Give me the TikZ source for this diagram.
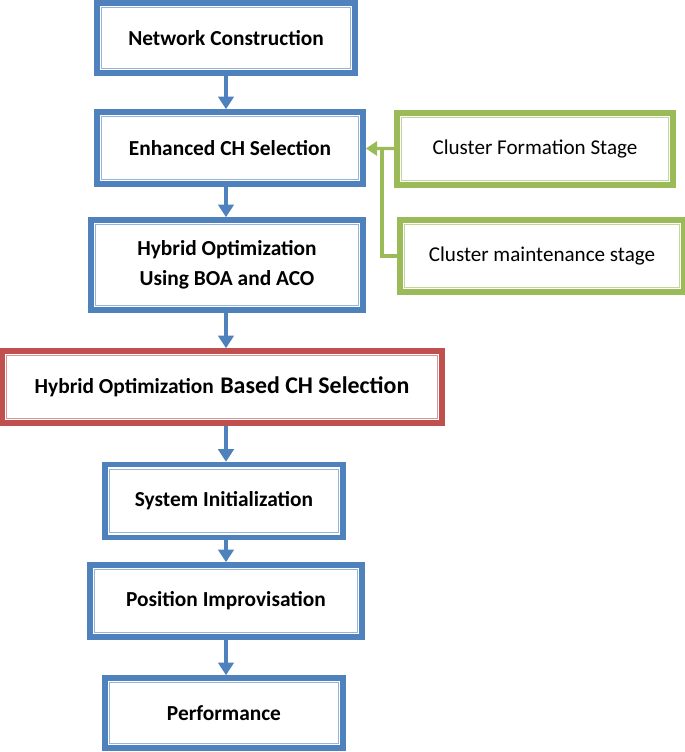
\documentclass[tikz,border=0pt]{standalone}
\usepackage{fontspec}
\setmainfont{Carlito}
\usetikzlibrary{arrows.meta}

\definecolor{boxblue}{RGB}{79,129,189}
\definecolor{boxgreen}{RGB}{155,187,89}
\definecolor{boxred}{RGB}{192,80,77}

\tikzset{
    stage/.style={rectangle, draw=#1, line width=4pt, fill=white, inner sep=2pt,
        align=center, font=\fontsize{15}{21}\selectfont,
        path picture={\draw[#1!60, line width=.7pt]
            ([shift={(3.4pt,3.4pt)}]path picture bounding box.south west) rectangle
            ([shift={(-3.4pt,-3.4pt)}]path picture bounding box.north east);}},
    mainstep/.style={stage=boxblue, font=\fontsize{15.2}{21}\selectfont\bfseries},
    sidestep/.style={stage=boxgreen},
    flow/.style={draw=boxblue, line width=3pt, -{Triangle[width=11pt,length=9pt]}},
    feed/.style={draw=boxgreen, line width=2.4pt}
}

\begin{document}
\begin{tikzpicture}[x=0.025cm, y=-0.025cm]
\useasboundingbox (0,0) rectangle (685,752);

% ===== Main column =====
\node[mainstep, minimum width=6.45cm, minimum height=1.75cm] (net) at (226,38) {Network Construction};
\node[mainstep, minimum width=6.65cm, minimum height=1.8cm] (ench) at (230,148) {Enhanced CH Selection};
\node[mainstep, minimum width=6.8cm, minimum height=2.25cm] (hyb) at (227,265) {Hybrid Optimization\\Using BOA and ACO};
\node[stage=boxred, font=\bfseries, minimum width=11cm, minimum height=1.8cm] (hcs) at (222,387)
    {{\fontsize{15.2}{21}\selectfont Hybrid Optimization}\ \ {\fontsize{17}{21}\selectfont Based CH Selection}};
\node[mainstep, minimum width=5.95cm, minimum height=1.82cm] (init) at (224,501) {System Initialization};
\node[mainstep, minimum width=6.8cm, minimum height=1.8cm] (pos) at (226,601) {Position Improvisation};
\node[mainstep, minimum width=5.95cm, minimum height=1.75cm] (perf) at (224,713) {Performance};

% ===== Cluster stages =====
\node[sidestep, minimum width=6.9cm, minimum height=1.8cm] (form) at (535,149) {Cluster Formation Stage};
\node[sidestep, minimum width=7.1cm, minimum height=1.8cm] (maint) at (542,256) {Cluster maintenance stage};
\coordinate (jn) at (382,149);

% straight down the column, on the axis of the first box
\foreach \a/\b in {net/ench, ench/hyb, hyb/hcs, hcs/init, init/pos, pos/perf}
    \draw[flow] (net.south |- \a.south) -- (net.south |- \b.north);

\draw[feed, -{Triangle[width=10pt,length=8pt]}] (form) -- (ench);
\draw[feed] (maint.west) -| (jn);

\end{tikzpicture}
\end{document}
